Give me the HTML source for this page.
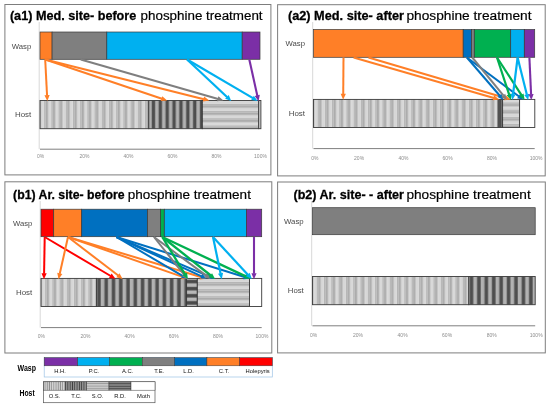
<!DOCTYPE html>
<html><head><meta charset="utf-8"><title>Figure</title>
<style>html,body{margin:0;padding:0;background:#fff}svg{display:block;filter:blur(0.35px)}</style>
</head><body>
<svg width="550" height="407" viewBox="0 0 550 407">

<defs>
<linearGradient id="tcg" x1="0" x2="1" y1="0" y2="0">
<stop offset="0" stop-color="#808080"/><stop offset="0.08" stop-color="#4e4e4e"/><stop offset="0.40" stop-color="#4e4e4e"/><stop offset="0.54" stop-color="#b2b2b2"/><stop offset="0.88" stop-color="#b2b2b2"/><stop offset="1" stop-color="#808080"/>
</linearGradient>
<linearGradient id="rdg" x1="0" x2="0" y1="0" y2="1">
<stop offset="0" stop-color="#808080"/><stop offset="0.08" stop-color="#484848"/><stop offset="0.42" stop-color="#4c4c4c"/><stop offset="0.55" stop-color="#b8b8b8"/><stop offset="0.9" stop-color="#b8b8b8"/><stop offset="1" stop-color="#808080"/>
</linearGradient>
<pattern id="os_a1" x="41.5" y="0" width="7.2" height="40" patternUnits="userSpaceOnUse"><rect x="0.00" width="1.30" height="40" fill="#dadada"/><rect x="1.28" width="0.41" height="40" fill="#b6b6b6"/><rect x="1.68" width="1.50" height="40" fill="#dadada"/><rect x="3.16" width="0.61" height="40" fill="#808080"/><rect x="3.75" width="0.81" height="40" fill="#b8b8b8"/><rect x="4.54" width="0.61" height="40" fill="#808080"/><rect x="5.13" width="0.81" height="40" fill="#b2b2b2"/><rect x="5.92" width="0.61" height="40" fill="#858585"/><rect x="6.51" width="0.71" height="40" fill="#c2c2c2"/></pattern>
<pattern id="tc_a1" x="151.9" y="0" width="6.88" height="40" patternUnits="userSpaceOnUse"><rect width="6.88" height="40" fill="url(#tcg)"/></pattern>
<pattern id="so_a1" x="0" y="108.4" width="40" height="7.2" patternUnits="userSpaceOnUse"><rect y="0.00" height="1.30" width="40" fill="#dadada"/><rect y="1.28" height="0.41" width="40" fill="#b6b6b6"/><rect y="1.68" height="1.50" width="40" fill="#dadada"/><rect y="3.16" height="0.61" width="40" fill="#808080"/><rect y="3.75" height="0.81" width="40" fill="#b8b8b8"/><rect y="4.54" height="0.61" width="40" fill="#808080"/><rect y="5.13" height="0.81" width="40" fill="#b2b2b2"/><rect y="5.92" height="0.61" width="40" fill="#858585"/><rect y="6.51" height="0.71" width="40" fill="#c2c2c2"/></pattern>
<pattern id="os_a2" x="315" y="0" width="7.2" height="40" patternUnits="userSpaceOnUse"><rect x="0.00" width="1.30" height="40" fill="#dadada"/><rect x="1.28" width="0.41" height="40" fill="#b6b6b6"/><rect x="1.68" width="1.50" height="40" fill="#dadada"/><rect x="3.16" width="0.61" height="40" fill="#808080"/><rect x="3.75" width="0.81" height="40" fill="#b8b8b8"/><rect x="4.54" width="0.61" height="40" fill="#808080"/><rect x="5.13" width="0.81" height="40" fill="#b2b2b2"/><rect x="5.92" width="0.61" height="40" fill="#858585"/><rect x="6.51" width="0.71" height="40" fill="#c2c2c2"/></pattern>
<pattern id="tc_a2" x="498.6" y="0" width="6.9" height="40" patternUnits="userSpaceOnUse"><rect width="6.9" height="40" fill="url(#tcg)"/></pattern>
<pattern id="so_a2" x="0" y="107" width="40" height="7.2" patternUnits="userSpaceOnUse"><rect y="0.00" height="1.30" width="40" fill="#dadada"/><rect y="1.28" height="0.41" width="40" fill="#b6b6b6"/><rect y="1.68" height="1.50" width="40" fill="#dadada"/><rect y="3.16" height="0.61" width="40" fill="#808080"/><rect y="3.75" height="0.81" width="40" fill="#b8b8b8"/><rect y="4.54" height="0.61" width="40" fill="#808080"/><rect y="5.13" height="0.81" width="40" fill="#b2b2b2"/><rect y="5.92" height="0.61" width="40" fill="#858585"/><rect y="6.51" height="0.71" width="40" fill="#c2c2c2"/></pattern>
<pattern id="os_b1" x="42.5" y="0" width="7.2" height="40" patternUnits="userSpaceOnUse"><rect x="0.00" width="1.30" height="40" fill="#dadada"/><rect x="1.28" width="0.41" height="40" fill="#b6b6b6"/><rect x="1.68" width="1.50" height="40" fill="#dadada"/><rect x="3.16" width="0.61" height="40" fill="#808080"/><rect x="3.75" width="0.81" height="40" fill="#b8b8b8"/><rect x="4.54" width="0.61" height="40" fill="#808080"/><rect x="5.13" width="0.81" height="40" fill="#b2b2b2"/><rect x="5.92" width="0.61" height="40" fill="#858585"/><rect x="6.51" width="0.71" height="40" fill="#c2c2c2"/></pattern>
<pattern id="tc_b1" x="97.3" y="0" width="7.27" height="40" patternUnits="userSpaceOnUse"><rect width="7.27" height="40" fill="url(#tcg)"/></pattern>
<pattern id="so_b1" x="0" y="279.4" width="40" height="7.1" patternUnits="userSpaceOnUse"><rect y="0.00" height="1.28" width="40" fill="#dadada"/><rect y="1.26" height="0.41" width="40" fill="#b6b6b6"/><rect y="1.65" height="1.48" width="40" fill="#dadada"/><rect y="3.11" height="0.60" width="40" fill="#808080"/><rect y="3.70" height="0.80" width="40" fill="#b8b8b8"/><rect y="4.47" height="0.60" width="40" fill="#808080"/><rect y="5.06" height="0.80" width="40" fill="#b2b2b2"/><rect y="5.84" height="0.60" width="40" fill="#858585"/><rect y="6.42" height="0.70" width="40" fill="#c2c2c2"/></pattern>
<pattern id="rd_b1" x="0" y="279.9" width="40" height="7.1" patternUnits="userSpaceOnUse"><rect width="40" height="7.1" fill="url(#rdg)"/></pattern>
<pattern id="os_b2" x="314" y="0" width="7.3" height="40" patternUnits="userSpaceOnUse"><rect x="0.00" width="1.32" height="40" fill="#dadada"/><rect x="1.30" width="0.42" height="40" fill="#b6b6b6"/><rect x="1.70" width="1.52" height="40" fill="#dadada"/><rect x="3.20" width="0.62" height="40" fill="#808080"/><rect x="3.80" width="0.82" height="40" fill="#b8b8b8"/><rect x="4.60" width="0.62" height="40" fill="#808080"/><rect x="5.20" width="0.82" height="40" fill="#b2b2b2"/><rect x="6.00" width="0.62" height="40" fill="#858585"/><rect x="6.60" width="0.72" height="40" fill="#c2c2c2"/></pattern>
<pattern id="tc_b2" x="469.8" y="0" width="7.42" height="40" patternUnits="userSpaceOnUse"><rect width="7.42" height="40" fill="url(#tcg)"/></pattern>
<pattern id="los" width="2.2" height="20" patternUnits="userSpaceOnUse">
<rect width="2.2" height="20" fill="#d6d6d6"/><rect x="0.6" width="0.7" height="20" fill="#7a7a7a"/>
</pattern>
<pattern id="ltc" width="2.3" height="20" patternUnits="userSpaceOnUse">
<rect width="2.3" height="20" fill="#bdbdbd"/><rect x="0.5" width="1.3" height="20" fill="#3c3c3c"/>
</pattern>
<pattern id="lso" width="20" height="2.6" patternUnits="userSpaceOnUse">
<rect width="20" height="2.6" fill="#c9c9c9"/><rect y="1" width="20" height="0.6" fill="#8a8a8a"/>
</pattern>
<pattern id="lrd" width="20" height="2.5" patternUnits="userSpaceOnUse">
<rect width="20" height="2.5" fill="#b0b0b0"/><rect y="0.5" width="20" height="1.5" fill="#444"/>
</pattern>
</defs>

<rect x="4.9" y="4.5" width="266.0" height="170.4" fill="#fff" stroke="#7d7d7d" stroke-width="1"/>
<text x="9.9" y="19.7" font-family='"Liberation Sans", sans-serif' font-size="13.7" font-weight="bold" fill="#000" stroke="#000" stroke-width="0.3" textLength="126.4" lengthAdjust="spacingAndGlyphs">(a1) Med. site- before</text>
<text x="140.6" y="19.7" font-family='"Liberation Sans", sans-serif' font-size="13.7" fill="#000" stroke="#000" stroke-width="0.2" textLength="122" lengthAdjust="spacingAndGlyphs">phosphine treatment</text>
<line x1="39.2" y1="22" x2="39.2" y2="149.2" stroke="#d4d4d4" stroke-width="0.9"/>
<line x1="40" y1="149.2" x2="260" y2="149.2" stroke="#7f7f7f" stroke-width="1"/>
<text x="40.5" y="157.6" font-family='"Liberation Sans", sans-serif' font-size="5.0" font-weight="normal" fill="#8c8c8c" text-anchor="middle">0%</text>
<text x="84.5" y="157.6" font-family='"Liberation Sans", sans-serif' font-size="5.0" font-weight="normal" fill="#8c8c8c" text-anchor="middle">20%</text>
<text x="128.5" y="157.6" font-family='"Liberation Sans", sans-serif' font-size="5.0" font-weight="normal" fill="#8c8c8c" text-anchor="middle">40%</text>
<text x="172.5" y="157.6" font-family='"Liberation Sans", sans-serif' font-size="5.0" font-weight="normal" fill="#8c8c8c" text-anchor="middle">60%</text>
<text x="216.5" y="157.6" font-family='"Liberation Sans", sans-serif' font-size="5.0" font-weight="normal" fill="#8c8c8c" text-anchor="middle">80%</text>
<text x="260.5" y="157.6" font-family='"Liberation Sans", sans-serif' font-size="5.0" font-weight="normal" fill="#8c8c8c" text-anchor="middle">100%</text>
<rect x="40.00" y="32" width="12.10" height="27.299999999999997" fill="#FF7F27" stroke="#3a3a3a" stroke-width="0.7"/>
<rect x="52.10" y="32" width="54.70" height="27.299999999999997" fill="#7F7F7F" stroke="#3a3a3a" stroke-width="0.7"/>
<rect x="106.80" y="32" width="135.40" height="27.299999999999997" fill="#00B0F0" stroke="#3a3a3a" stroke-width="0.7"/>
<rect x="242.20" y="32" width="17.80" height="27.299999999999997" fill="#7B2FA6" stroke="#3a3a3a" stroke-width="0.7"/>
<rect x="40.00" y="100.5" width="108.80" height="28.19999999999999" fill="url(#os_a1)" stroke="#3a3a3a" stroke-width="0.9"/>
<rect x="148.80" y="100.5" width="53.50" height="28.19999999999999" fill="url(#tc_a1)" stroke="#3a3a3a" stroke-width="0.9"/>
<rect x="202.30" y="100.5" width="56.40" height="28.19999999999999" fill="url(#so_a1)" stroke="#3a3a3a" stroke-width="0.9"/>
<rect x="258.70" y="100.5" width="2.20" height="28.19999999999999" fill="#d0d0d0" stroke="#3a3a3a" stroke-width="0.9"/>
<text x="11.8" y="48.9" font-family='"Liberation Sans", sans-serif' font-size="7" font-weight="normal" fill="#4a4a4a" text-anchor="start" textLength="19.5" lengthAdjust="spacingAndGlyphs">Wasp</text>
<text x="15" y="117" font-family='"Liberation Sans", sans-serif' font-size="7" font-weight="normal" fill="#4a4a4a" text-anchor="start" textLength="16.3" lengthAdjust="spacingAndGlyphs">Host</text>
<line x1="45.20" y1="59.50" x2="47.06" y2="95.61" stroke="#FF7F27" stroke-width="2.0"/>
<polygon points="47.34,101.10 44.44,95.24 49.63,94.97" fill="#FF7F27"/>
<line x1="45.20" y1="59.50" x2="161.95" y2="98.80" stroke="#FF7F27" stroke-width="2.0"/>
<polygon points="167.16,100.56 160.64,101.11 162.30,96.18" fill="#FF7F27"/>
<line x1="45.20" y1="59.50" x2="203.94" y2="99.16" stroke="#FF7F27" stroke-width="2.0"/>
<polygon points="209.28,100.49 202.82,101.56 204.09,96.52" fill="#FF7F27"/>
<line x1="80.70" y1="59.50" x2="218.18" y2="99.00" stroke="#7F7F7F" stroke-width="2.0"/>
<polygon points="223.47,100.52 216.98,101.36 218.42,96.37" fill="#7F7F7F"/>
<line x1="187.10" y1="59.50" x2="227.28" y2="97.28" stroke="#00B0F0" stroke-width="2.2"/>
<polygon points="231.28,101.05 225.13,98.83 228.69,95.04" fill="#00B0F0"/>
<line x1="187.10" y1="59.50" x2="252.95" y2="98.12" stroke="#00B0F0" stroke-width="2.2"/>
<polygon points="257.69,100.90 251.20,100.11 253.83,95.63" fill="#00B0F0"/>
<line x1="249.30" y1="59.50" x2="257.38" y2="95.91" stroke="#7B2FA6" stroke-width="2.1"/>
<polygon points="258.57,101.28 254.74,95.99 259.81,94.86" fill="#7B2FA6"/>
<rect x="277.6" y="4.7" width="267.6" height="171.20000000000002" fill="#fff" stroke="#7d7d7d" stroke-width="1"/>
<text x="287.9" y="20.2" font-family='"Liberation Sans", sans-serif' font-size="13.7" font-weight="bold" fill="#000" stroke="#000" stroke-width="0.3" textLength="116.1" lengthAdjust="spacingAndGlyphs">(a2) Med. site- after</text>
<text x="406.4" y="20.2" font-family='"Liberation Sans", sans-serif' font-size="13.7" fill="#000" stroke="#000" stroke-width="0.2" textLength="125.1" lengthAdjust="spacingAndGlyphs">phosphine treatment</text>
<line x1="312.7" y1="22" x2="312.7" y2="148.6" stroke="#d4d4d4" stroke-width="0.9"/>
<line x1="313.5" y1="148.6" x2="534.7" y2="148.6" stroke="#7f7f7f" stroke-width="1"/>
<text x="314.9" y="160.4" font-family='"Liberation Sans", sans-serif' font-size="5.0" font-weight="normal" fill="#8c8c8c" text-anchor="middle">0%</text>
<text x="359.1" y="160.4" font-family='"Liberation Sans", sans-serif' font-size="5.0" font-weight="normal" fill="#8c8c8c" text-anchor="middle">20%</text>
<text x="403.4" y="160.4" font-family='"Liberation Sans", sans-serif' font-size="5.0" font-weight="normal" fill="#8c8c8c" text-anchor="middle">40%</text>
<text x="447.6" y="160.4" font-family='"Liberation Sans", sans-serif' font-size="5.0" font-weight="normal" fill="#8c8c8c" text-anchor="middle">60%</text>
<text x="491.9" y="160.4" font-family='"Liberation Sans", sans-serif' font-size="5.0" font-weight="normal" fill="#8c8c8c" text-anchor="middle">80%</text>
<text x="536.1" y="160.4" font-family='"Liberation Sans", sans-serif' font-size="5.0" font-weight="normal" fill="#8c8c8c" text-anchor="middle">100%</text>
<rect x="313.50" y="29.5" width="149.70" height="27.799999999999997" fill="#FF7F27" stroke="#3a3a3a" stroke-width="0.7"/>
<rect x="463.20" y="29.5" width="8.30" height="27.799999999999997" fill="#0070C0" stroke="#3a3a3a" stroke-width="0.7"/>
<rect x="471.50" y="29.5" width="2.80" height="27.799999999999997" fill="#7F7F7F" stroke="#3a3a3a" stroke-width="0.7"/>
<rect x="474.30" y="29.5" width="36.40" height="27.799999999999997" fill="#00B050" stroke="#3a3a3a" stroke-width="0.7"/>
<rect x="510.70" y="29.5" width="13.60" height="27.799999999999997" fill="#00B0F0" stroke="#3a3a3a" stroke-width="0.7"/>
<rect x="524.30" y="29.5" width="10.40" height="27.799999999999997" fill="#7B2FA6" stroke="#3a3a3a" stroke-width="0.7"/>
<rect x="313.50" y="99.4" width="184.70" height="28.099999999999994" fill="url(#os_a2)" stroke="#3a3a3a" stroke-width="0.9"/>
<rect x="498.20" y="99.4" width="4.40" height="28.099999999999994" fill="url(#tc_a2)" stroke="#3a3a3a" stroke-width="0.9"/>
<rect x="502.60" y="99.4" width="17.00" height="28.099999999999994" fill="url(#so_a2)" stroke="#3a3a3a" stroke-width="0.9"/>
<rect x="519.60" y="99.4" width="15.20" height="28.099999999999994" fill="#fff" stroke="#3a3a3a" stroke-width="0.9"/>
<text x="285.5" y="46.1" font-family='"Liberation Sans", sans-serif' font-size="7" font-weight="normal" fill="#4a4a4a" text-anchor="start" textLength="19.5" lengthAdjust="spacingAndGlyphs">Wasp</text>
<text x="288.7" y="116" font-family='"Liberation Sans", sans-serif' font-size="7" font-weight="normal" fill="#4a4a4a" text-anchor="start" textLength="16.3" lengthAdjust="spacingAndGlyphs">Host</text>
<line x1="343.50" y1="57.50" x2="343.23" y2="94.30" stroke="#FF7F27" stroke-width="2.0"/>
<polygon points="343.19,99.80 340.64,93.78 345.84,93.82" fill="#FF7F27"/>
<line x1="353.60" y1="57.50" x2="493.88" y2="98.00" stroke="#FF7F27" stroke-width="2.0"/>
<polygon points="499.17,99.52 492.68,100.36 494.13,95.36" fill="#FF7F27"/>
<line x1="368.50" y1="57.50" x2="505.49" y2="97.97" stroke="#FF7F27" stroke-width="2.0"/>
<polygon points="510.77,99.53 504.28,100.32 505.75,95.33" fill="#FF7F27"/>
<line x1="466.90" y1="57.50" x2="499.83" y2="95.74" stroke="#0070C0" stroke-width="2.0"/>
<polygon points="503.42,99.91 497.54,97.06 501.48,93.66" fill="#0070C0"/>
<line x1="466.90" y1="57.50" x2="519.04" y2="96.49" stroke="#0070C0" stroke-width="2.0"/>
<polygon points="523.44,99.78 517.08,98.27 520.19,94.10" fill="#0070C0"/>
<line x1="472.30" y1="57.50" x2="503.52" y2="95.66" stroke="#7F7F7F" stroke-width="2.0"/>
<polygon points="507.01,99.92 501.19,96.92 505.22,93.63" fill="#7F7F7F"/>
<line x1="497.00" y1="57.50" x2="509.24" y2="94.83" stroke="#00B050" stroke-width="2.2"/>
<polygon points="510.95,100.06 506.61,95.17 511.55,93.55" fill="#00B050"/>
<line x1="497.00" y1="57.50" x2="521.64" y2="95.36" stroke="#00B050" stroke-width="2.2"/>
<polygon points="524.64,99.97 519.18,96.36 523.54,93.52" fill="#00B050"/>
<line x1="517.60" y1="57.50" x2="512.98" y2="94.64" stroke="#00B0F0" stroke-width="2.2"/>
<polygon points="512.30,100.09 510.46,93.82 515.62,94.46" fill="#00B0F0"/>
<line x1="517.60" y1="57.50" x2="526.87" y2="94.74" stroke="#00B0F0" stroke-width="2.2"/>
<polygon points="528.19,100.08 524.22,94.88 529.27,93.63" fill="#00B0F0"/>
<line x1="529.40" y1="57.50" x2="531.09" y2="94.60" stroke="#7B2FA6" stroke-width="2.1"/>
<polygon points="531.34,100.10 528.47,94.22 533.66,93.99" fill="#7B2FA6"/>
<rect x="4.9" y="181.8" width="266.90000000000003" height="171.2" fill="#fff" stroke="#7d7d7d" stroke-width="1"/>
<text x="13.1" y="199" font-family='"Liberation Sans", sans-serif' font-size="13.7" font-weight="bold" fill="#000" stroke="#000" stroke-width="0.3" textLength="111.4" lengthAdjust="spacingAndGlyphs">(b1) Ar. site- before</text>
<text x="127.7" y="199" font-family='"Liberation Sans", sans-serif' font-size="13.7" fill="#000" stroke="#000" stroke-width="0.2" textLength="123.2" lengthAdjust="spacingAndGlyphs">phosphine treatment</text>
<line x1="40.2" y1="201" x2="40.2" y2="327.6" stroke="#d4d4d4" stroke-width="0.9"/>
<line x1="41" y1="327.6" x2="261.7" y2="327.6" stroke="#7f7f7f" stroke-width="1"/>
<text x="41.3" y="338.1" font-family='"Liberation Sans", sans-serif' font-size="5.0" font-weight="normal" fill="#8c8c8c" text-anchor="middle">0%</text>
<text x="85.4" y="338.1" font-family='"Liberation Sans", sans-serif' font-size="5.0" font-weight="normal" fill="#8c8c8c" text-anchor="middle">20%</text>
<text x="129.6" y="338.1" font-family='"Liberation Sans", sans-serif' font-size="5.0" font-weight="normal" fill="#8c8c8c" text-anchor="middle">40%</text>
<text x="173.7" y="338.1" font-family='"Liberation Sans", sans-serif' font-size="5.0" font-weight="normal" fill="#8c8c8c" text-anchor="middle">60%</text>
<text x="217.9" y="338.1" font-family='"Liberation Sans", sans-serif' font-size="5.0" font-weight="normal" fill="#8c8c8c" text-anchor="middle">80%</text>
<text x="262.0" y="338.1" font-family='"Liberation Sans", sans-serif' font-size="5.0" font-weight="normal" fill="#8c8c8c" text-anchor="middle">100%</text>
<rect x="41.00" y="209.2" width="12.70" height="27.5" fill="#FF0000" stroke="#3a3a3a" stroke-width="0.7"/>
<rect x="53.70" y="209.2" width="28.00" height="27.5" fill="#FF7F27" stroke="#3a3a3a" stroke-width="0.7"/>
<rect x="81.70" y="209.2" width="65.80" height="27.5" fill="#0070C0" stroke="#3a3a3a" stroke-width="0.7"/>
<rect x="147.50" y="209.2" width="13.10" height="27.5" fill="#7F7F7F" stroke="#3a3a3a" stroke-width="0.7"/>
<rect x="160.60" y="209.2" width="3.70" height="27.5" fill="#00B050" stroke="#3a3a3a" stroke-width="0.7"/>
<rect x="164.30" y="209.2" width="82.10" height="27.5" fill="#00B0F0" stroke="#3a3a3a" stroke-width="0.7"/>
<rect x="246.40" y="209.2" width="15.30" height="27.5" fill="#7B2FA6" stroke="#3a3a3a" stroke-width="0.7"/>
<rect x="41.00" y="278.4" width="55.40" height="28.100000000000023" fill="url(#os_b1)" stroke="#3a3a3a" stroke-width="0.9"/>
<rect x="96.40" y="278.4" width="90.20" height="28.100000000000023" fill="url(#tc_b1)" stroke="#3a3a3a" stroke-width="0.9"/>
<rect x="186.60" y="278.4" width="10.70" height="28.100000000000023" fill="url(#rd_b1)" stroke="#3a3a3a" stroke-width="0.9"/>
<rect x="197.30" y="278.4" width="52.20" height="28.100000000000023" fill="url(#so_b1)" stroke="#3a3a3a" stroke-width="0.9"/>
<rect x="249.50" y="278.4" width="12.20" height="28.100000000000023" fill="#fff" stroke="#3a3a3a" stroke-width="0.9"/>
<text x="13" y="225.9" font-family='"Liberation Sans", sans-serif' font-size="7" font-weight="normal" fill="#4a4a4a" text-anchor="start" textLength="19.3" lengthAdjust="spacingAndGlyphs">Wasp</text>
<text x="16" y="295" font-family='"Liberation Sans", sans-serif' font-size="7" font-weight="normal" fill="#4a4a4a" text-anchor="start" textLength="16.3" lengthAdjust="spacingAndGlyphs">Host</text>
<line x1="44.70" y1="237.00" x2="44.08" y2="273.70" stroke="#FF0000" stroke-width="2.0"/>
<polygon points="43.99,279.20 41.49,273.16 46.69,273.24" fill="#FF0000"/>
<line x1="44.70" y1="237.00" x2="110.75" y2="276.01" stroke="#FF0000" stroke-width="2.0"/>
<polygon points="115.49,278.81 109.00,277.99 111.64,273.52" fill="#FF0000"/>
<line x1="68.00" y1="237.00" x2="59.73" y2="273.81" stroke="#FF7F27" stroke-width="2.0"/>
<polygon points="58.52,279.18 57.30,272.76 62.38,273.90" fill="#FF7F27"/>
<line x1="68.00" y1="237.00" x2="118.27" y2="275.54" stroke="#FF7F27" stroke-width="2.0"/>
<polygon points="122.63,278.89 116.29,277.30 119.46,273.17" fill="#FF7F27"/>
<line x1="68.00" y1="237.00" x2="182.56" y2="276.86" stroke="#FF7F27" stroke-width="2.0"/>
<polygon points="187.76,278.66 181.23,279.15 182.94,274.24" fill="#FF7F27"/>
<line x1="68.00" y1="237.00" x2="200.80" y2="277.04" stroke="#FF7F27" stroke-width="2.0"/>
<polygon points="206.07,278.63 199.57,279.39 201.07,274.41" fill="#FF7F27"/>
<line x1="116.40" y1="237.00" x2="182.95" y2="276.02" stroke="#0070C0" stroke-width="2.0"/>
<polygon points="187.69,278.80 181.20,278.01 183.83,273.53" fill="#0070C0"/>
<line x1="116.40" y1="237.00" x2="201.73" y2="276.43" stroke="#0070C0" stroke-width="2.0"/>
<polygon points="206.73,278.74 200.19,278.58 202.37,273.86" fill="#0070C0"/>
<line x1="116.40" y1="237.00" x2="209.67" y2="276.56" stroke="#0070C0" stroke-width="2.0"/>
<polygon points="214.74,278.71 208.20,278.76 210.23,273.98" fill="#0070C0"/>
<line x1="116.40" y1="237.00" x2="244.51" y2="277.00" stroke="#0070C0" stroke-width="2.0"/>
<polygon points="249.76,278.64 243.26,279.33 244.81,274.37" fill="#0070C0"/>
<line x1="154.00" y1="237.00" x2="184.07" y2="274.72" stroke="#7F7F7F" stroke-width="2.0"/>
<polygon points="187.50,279.03 181.73,275.95 185.79,272.71" fill="#7F7F7F"/>
<line x1="154.00" y1="237.00" x2="206.22" y2="275.61" stroke="#7F7F7F" stroke-width="2.0"/>
<polygon points="210.64,278.88 204.27,277.40 207.36,273.22" fill="#7F7F7F"/>
<line x1="162.30" y1="237.00" x2="185.06" y2="274.39" stroke="#00B050" stroke-width="2.3"/>
<polygon points="187.92,279.08 182.58,275.31 187.02,272.61" fill="#00B050"/>
<line x1="162.30" y1="237.00" x2="210.82" y2="275.48" stroke="#00B050" stroke-width="2.3"/>
<polygon points="215.13,278.90 208.81,277.21 212.04,273.13" fill="#00B050"/>
<line x1="162.30" y1="237.00" x2="245.75" y2="276.39" stroke="#00B050" stroke-width="2.3"/>
<polygon points="250.72,278.74 244.19,278.53 246.41,273.83" fill="#00B050"/>
<line x1="213.00" y1="237.00" x2="220.64" y2="273.80" stroke="#00B0F0" stroke-width="2.2"/>
<polygon points="221.76,279.18 218.00,273.84 223.09,272.78" fill="#00B0F0"/>
<line x1="213.00" y1="237.00" x2="248.11" y2="274.95" stroke="#00B0F0" stroke-width="2.2"/>
<polygon points="251.84,278.99 245.86,276.35 249.68,272.82" fill="#00B0F0"/>
<line x1="254.00" y1="237.00" x2="254.00" y2="273.70" stroke="#7B2FA6" stroke-width="2.1"/>
<polygon points="254.00,279.20 251.40,273.20 256.60,273.20" fill="#7B2FA6"/>
<rect x="277.6" y="182" width="267.69999999999993" height="170.89999999999998" fill="#fff" stroke="#7d7d7d" stroke-width="1"/>
<text x="293.5" y="199" font-family='"Liberation Sans", sans-serif' font-size="13.7" font-weight="bold" fill="#000" stroke="#000" stroke-width="0.3" textLength="110.5" lengthAdjust="spacingAndGlyphs">(b2) Ar. site- - after</text>
<text x="406.4" y="199" font-family='"Liberation Sans", sans-serif' font-size="13.7" fill="#000" stroke="#000" stroke-width="0.2" textLength="124.3" lengthAdjust="spacingAndGlyphs">phosphine treatment</text>
<line x1="311.7" y1="201" x2="311.7" y2="325.8" stroke="#d4d4d4" stroke-width="0.9"/>
<line x1="312.5" y1="325.8" x2="535.2" y2="325.8" stroke="#7f7f7f" stroke-width="1"/>
<text x="313.5" y="336.8" font-family='"Liberation Sans", sans-serif' font-size="5.0" font-weight="normal" fill="#8c8c8c" text-anchor="middle">0%</text>
<text x="358.0" y="336.8" font-family='"Liberation Sans", sans-serif' font-size="5.0" font-weight="normal" fill="#8c8c8c" text-anchor="middle">20%</text>
<text x="402.6" y="336.8" font-family='"Liberation Sans", sans-serif' font-size="5.0" font-weight="normal" fill="#8c8c8c" text-anchor="middle">40%</text>
<text x="447.1" y="336.8" font-family='"Liberation Sans", sans-serif' font-size="5.0" font-weight="normal" fill="#8c8c8c" text-anchor="middle">60%</text>
<text x="491.7" y="336.8" font-family='"Liberation Sans", sans-serif' font-size="5.0" font-weight="normal" fill="#8c8c8c" text-anchor="middle">80%</text>
<text x="536.2" y="336.8" font-family='"Liberation Sans", sans-serif' font-size="5.0" font-weight="normal" fill="#8c8c8c" text-anchor="middle">100%</text>
<rect x="312.50" y="207.7" width="222.70" height="27.0" fill="#7F7F7F" stroke="#3a3a3a" stroke-width="0.7"/>
<rect x="312.50" y="276.5" width="156.30" height="28.19999999999999" fill="url(#os_b2)" stroke="#3a3a3a" stroke-width="0.9"/>
<rect x="468.80" y="276.5" width="66.40" height="28.19999999999999" fill="url(#tc_b2)" stroke="#3a3a3a" stroke-width="0.9"/>
<text x="284" y="224.2" font-family='"Liberation Sans", sans-serif' font-size="7" font-weight="normal" fill="#4a4a4a" text-anchor="start" textLength="19.7" lengthAdjust="spacingAndGlyphs">Wasp</text>
<text x="287.8" y="293.2" font-family='"Liberation Sans", sans-serif' font-size="7" font-weight="normal" fill="#4a4a4a" text-anchor="start" textLength="16" lengthAdjust="spacingAndGlyphs">Host</text>
<text x="17.6" y="370.5" font-family='"Liberation Sans", sans-serif' font-size="8.8" font-weight="bold" fill="#000" text-anchor="start" textLength="18.4" lengthAdjust="spacingAndGlyphs">Wasp</text>
<text x="19.5" y="395.6" font-family='"Liberation Sans", sans-serif' font-size="8.8" font-weight="bold" fill="#000" text-anchor="start" textLength="15.2" lengthAdjust="spacingAndGlyphs">Host</text>
<rect x="44.2" y="357.7" width="228.1" height="19.3" fill="#fff" stroke="#9cc2e5" stroke-width="0.7"/>
<rect x="44.2" y="357.7" width="33.50" height="8.1" fill="#7B2FA6" stroke="#3a3a3a" stroke-width="0.5"/>
<text x="60" y="373.3" font-family='"Liberation Sans", sans-serif' font-size="5.8" font-weight="normal" fill="#111" text-anchor="middle">H.H.</text>
<rect x="77.7" y="357.7" width="31.90" height="8.1" fill="#00B0F0" stroke="#3a3a3a" stroke-width="0.5"/>
<text x="94" y="373.3" font-family='"Liberation Sans", sans-serif' font-size="5.8" font-weight="normal" fill="#111" text-anchor="middle">P.C.</text>
<rect x="109.6" y="357.7" width="32.70" height="8.1" fill="#00B050" stroke="#3a3a3a" stroke-width="0.5"/>
<text x="127.6" y="373.3" font-family='"Liberation Sans", sans-serif' font-size="5.8" font-weight="normal" fill="#111" text-anchor="middle">A.C.</text>
<rect x="142.3" y="357.7" width="32.20" height="8.1" fill="#7F7F7F" stroke="#3a3a3a" stroke-width="0.5"/>
<text x="159.2" y="373.3" font-family='"Liberation Sans", sans-serif' font-size="5.8" font-weight="normal" fill="#111" text-anchor="middle">T.E.</text>
<rect x="174.5" y="357.7" width="32.40" height="8.1" fill="#0070C0" stroke="#3a3a3a" stroke-width="0.5"/>
<text x="188.6" y="373.3" font-family='"Liberation Sans", sans-serif' font-size="5.8" font-weight="normal" fill="#111" text-anchor="middle">L.D.</text>
<rect x="206.9" y="357.7" width="32.70" height="8.1" fill="#FF7F27" stroke="#3a3a3a" stroke-width="0.5"/>
<text x="224" y="373.3" font-family='"Liberation Sans", sans-serif' font-size="5.8" font-weight="normal" fill="#111" text-anchor="middle">C.T.</text>
<rect x="239.6" y="357.7" width="32.70" height="8.1" fill="#FF0000" stroke="#3a3a3a" stroke-width="0.5"/>
<text x="257.6" y="373.3" font-family='"Liberation Sans", sans-serif' font-size="5.8" font-weight="normal" fill="#111" text-anchor="middle">Holepyris</text>
<rect x="43.6" y="381.8" width="111.4" height="20.9" fill="#fff" stroke="#555" stroke-width="0.7"/>
<rect x="43.6" y="381.8" width="21.80" height="8.4" fill="url(#los)" stroke="#3a3a3a" stroke-width="0.5"/>
<text x="54.5" y="397.8" font-family='"Liberation Sans", sans-serif' font-size="5.8" font-weight="normal" fill="#111" text-anchor="middle">O.S.</text>
<rect x="65.4" y="381.8" width="21.30" height="8.4" fill="url(#ltc)" stroke="#3a3a3a" stroke-width="0.5"/>
<text x="76.4" y="397.8" font-family='"Liberation Sans", sans-serif' font-size="5.8" font-weight="normal" fill="#111" text-anchor="middle">T.C.</text>
<rect x="86.7" y="381.8" width="22.30" height="8.4" fill="url(#lso)" stroke="#3a3a3a" stroke-width="0.5"/>
<text x="97.6" y="397.8" font-family='"Liberation Sans", sans-serif' font-size="5.8" font-weight="normal" fill="#111" text-anchor="middle">S.O.</text>
<rect x="109" y="381.8" width="22.00" height="8.4" fill="url(#lrd)" stroke="#3a3a3a" stroke-width="0.5"/>
<text x="120" y="397.8" font-family='"Liberation Sans", sans-serif' font-size="5.8" font-weight="normal" fill="#111" text-anchor="middle">R.D.</text>
<rect x="131" y="381.8" width="24.00" height="8.4" fill="#fff" stroke="#3a3a3a" stroke-width="0.5"/>
<text x="143.5" y="397.8" font-family='"Liberation Sans", sans-serif' font-size="5.8" font-weight="normal" fill="#111" text-anchor="middle">Moth</text>
</svg>
</body></html>
